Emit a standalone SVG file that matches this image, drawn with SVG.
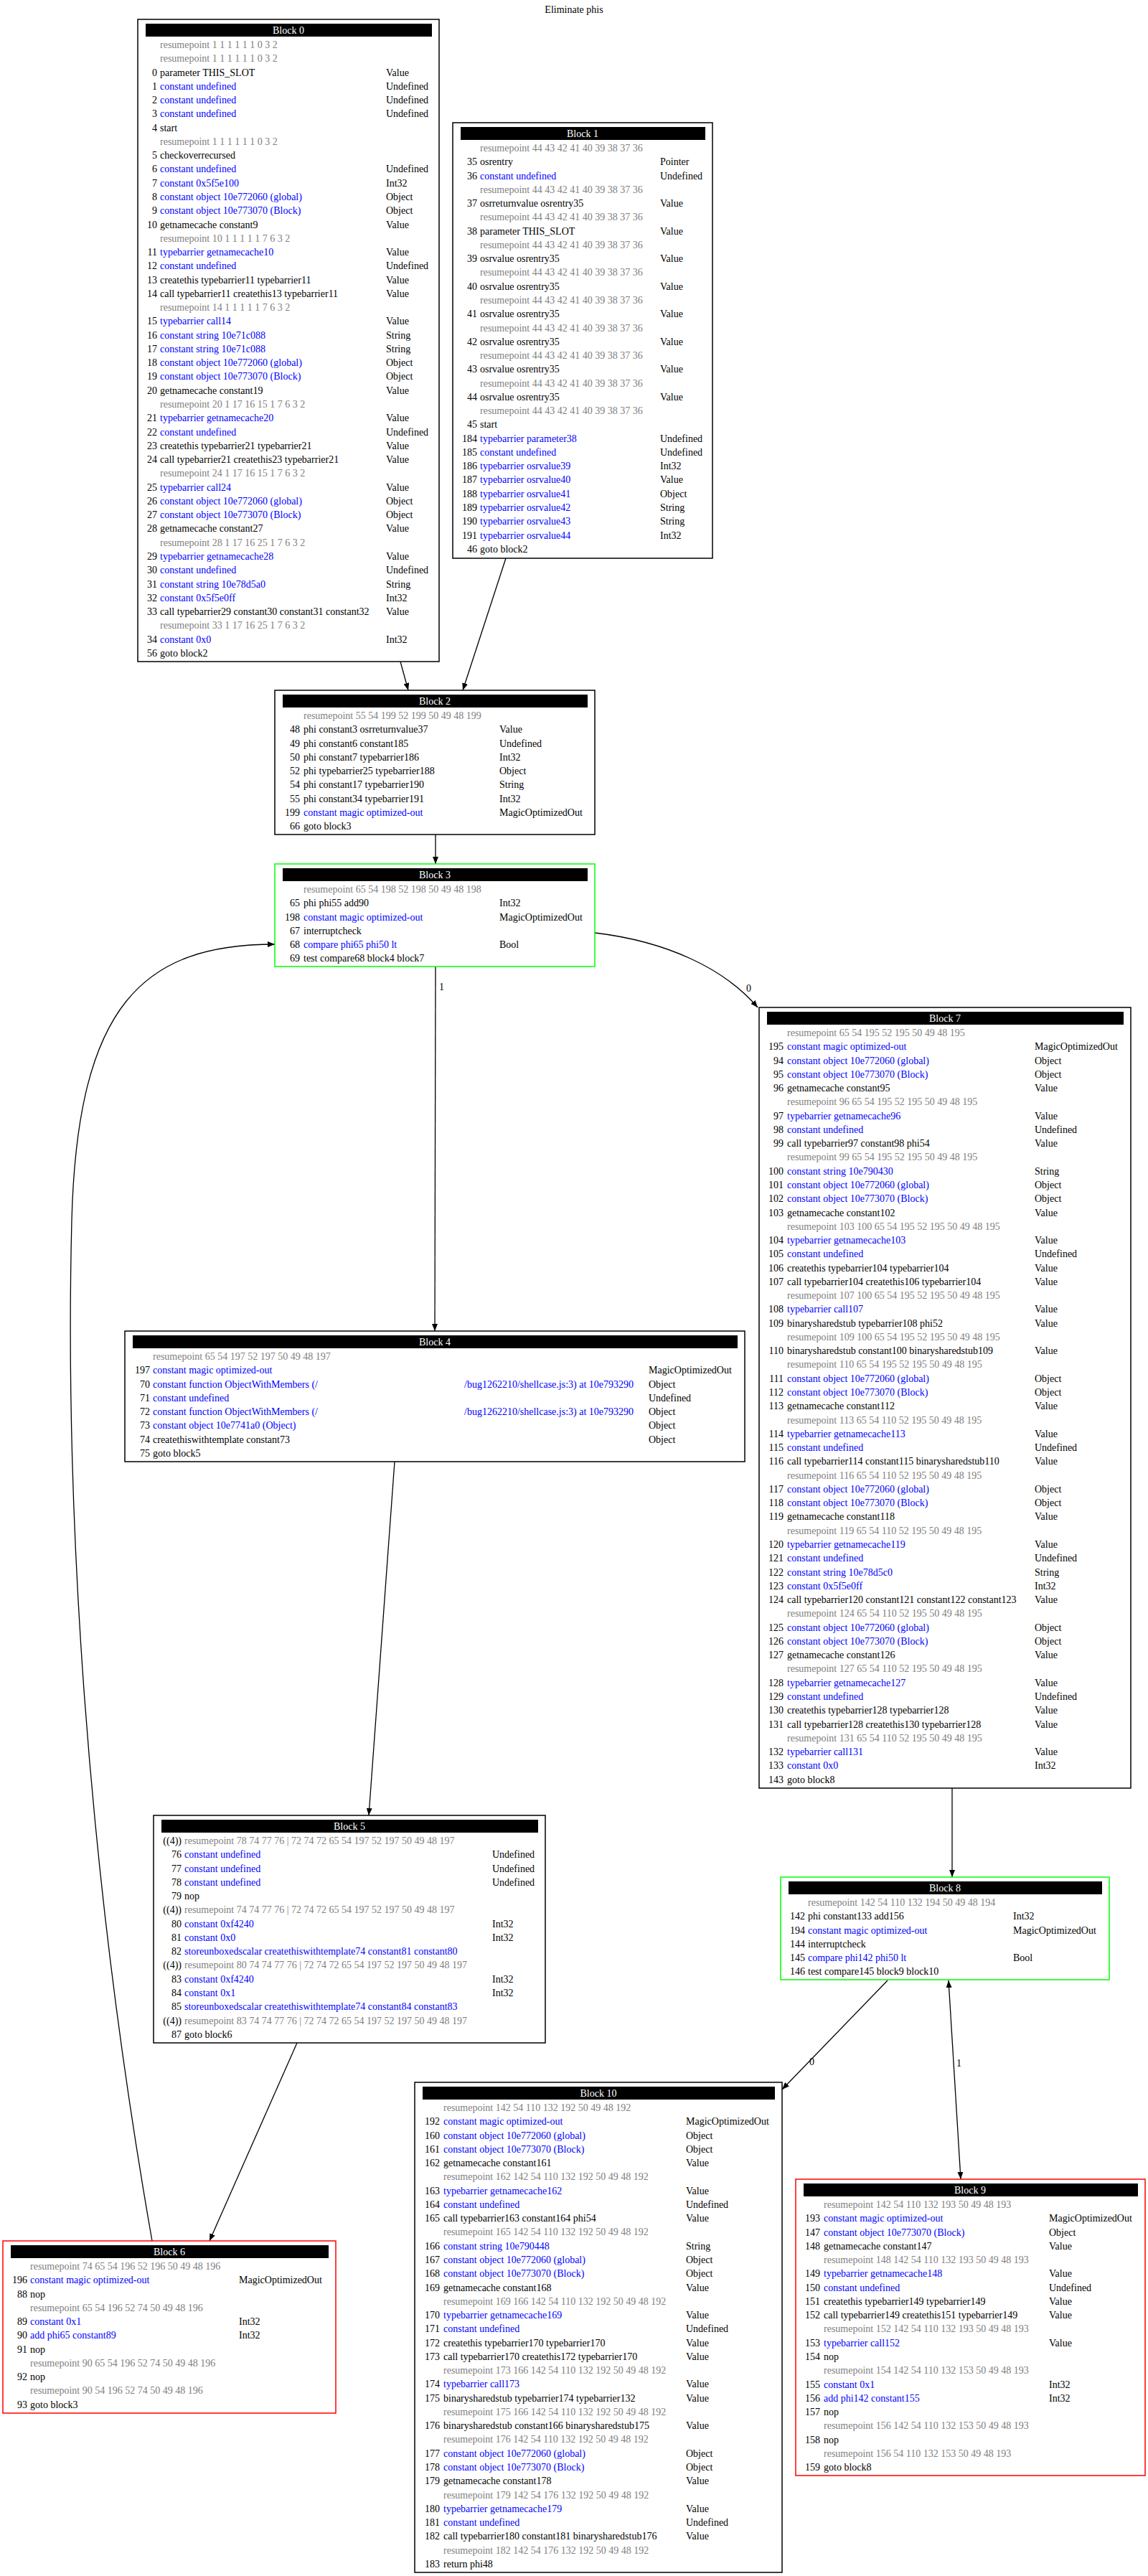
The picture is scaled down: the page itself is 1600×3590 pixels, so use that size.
<svg xmlns="http://www.w3.org/2000/svg" width="1600" height="3590" viewBox="0 0 1600 3590">
<style>
text{font-family:"Liberation Serif","Times New Roman",serif;font-size:14px;fill:#000}
.n{text-anchor:end}
.g{fill:#808080}
.b{fill:#0000ff}
.hd{fill:#fff;text-anchor:middle}
.box{fill:#fff;stroke:#000;stroke-width:1.5}
.gr{stroke:#00ff00}
.rd{stroke:#ff0000}
.bar{fill:#000}
.edge{fill:none;stroke:#000;stroke-width:1.3}
</style>
<defs>
<marker id="ah" markerWidth="10" markerHeight="8" refX="10" refY="4" orient="auto" markerUnits="userSpaceOnUse"><path d="M0,0 L10,4 L0,8 z" fill="#000"/></marker>
<marker id="as" markerWidth="10" markerHeight="8" refX="0" refY="4" orient="auto" markerUnits="userSpaceOnUse"><path d="M10,0 L0,4 L10,8 z" fill="#000"/></marker>
</defs>
<rect width="1600" height="3590" fill="#fff"/>
<text x="800" y="18" text-anchor="middle">Eliminate phis</text>

<g id="edges">
<path class="edge" d="M558,922 L569,962" marker-end="url(#ah)"/>
<path class="edge" d="M705,778 L645,962" marker-end="url(#ah)"/>
<path class="edge" d="M607,1163 L607,1204" marker-end="url(#ah)"/>
<path class="edge" d="M607,1347 L606,1855" marker-end="url(#ah)"/>
<text x="612" y="1380">1</text>
<path class="edge" d="M829,1300 C930,1312 1010,1350 1056,1404" marker-end="url(#ah)"/>
<text x="1040" y="1382">0</text>
<path class="edge" d="M550,2037 L514,2530" marker-end="url(#ah)"/>
<path class="edge" d="M414,2847 L292,3123" marker-end="url(#ah)"/>
<path class="edge" d="M212,3123 C120,2600 90,2100 100,1700 C108,1400 200,1316 383,1316" marker-end="url(#ah)"/>
<path class="edge" d="M1327,2492 L1327,2616" marker-end="url(#ah)"/>
<path class="edge" d="M1322,2760 L1339,3037" marker-start="url(#as)" marker-end="url(#ah)"/>
<text x="1333" y="2880">1</text>
<path class="edge" d="M1237,2760 L1090,2912" marker-end="url(#ah)"/>
<text x="1128" y="2878">0</text>
</g>

<g id="block0">
<rect class="box" x="192" y="27" width="420" height="895"/>
<rect class="bar" x="203" y="33" width="399" height="18"/>
<text class="hd" x="402" y="47">Block 0</text>
<text class="n"><tspan x="219" y="105.54">0</tspan><tspan x="219" dy="19.27">1</tspan><tspan x="219" dy="19.27">2</tspan><tspan x="219" dy="19.27">3</tspan><tspan x="219" dy="19.27">4</tspan><tspan x="219" dy="38.54">5</tspan><tspan x="219" dy="19.27">6</tspan><tspan x="219" dy="19.27">7</tspan><tspan x="219" dy="19.27">8</tspan><tspan x="219" dy="19.27">9</tspan><tspan x="219" dy="19.27">10</tspan><tspan x="219" dy="38.54">11</tspan><tspan x="219" dy="19.27">12</tspan><tspan x="219" dy="19.27">13</tspan><tspan x="219" dy="19.27">14</tspan><tspan x="219" dy="38.54">15</tspan><tspan x="219" dy="19.27">16</tspan><tspan x="219" dy="19.27">17</tspan><tspan x="219" dy="19.27">18</tspan><tspan x="219" dy="19.27">19</tspan><tspan x="219" dy="19.27">20</tspan><tspan x="219" dy="38.54">21</tspan><tspan x="219" dy="19.27">22</tspan><tspan x="219" dy="19.27">23</tspan><tspan x="219" dy="19.27">24</tspan><tspan x="219" dy="38.54">25</tspan><tspan x="219" dy="19.27">26</tspan><tspan x="219" dy="19.27">27</tspan><tspan x="219" dy="19.27">28</tspan><tspan x="219" dy="38.54">29</tspan><tspan x="219" dy="19.27">30</tspan><tspan x="219" dy="19.27">31</tspan><tspan x="219" dy="19.27">32</tspan><tspan x="219" dy="19.27">33</tspan><tspan x="219" dy="38.54">34</tspan><tspan x="219" dy="19.27">56</tspan></text>
<text><tspan x="223" y="67" class="g">resumepoint 1 1 1 1 1 1 0 3 2</tspan><tspan x="223" dy="19.27" class="g">resumepoint 1 1 1 1 1 1 0 3 2</tspan><tspan x="223" dy="19.27">parameter THIS_SLOT</tspan><tspan x="223" dy="19.27" class="b">constant undefined</tspan><tspan x="223" dy="19.27" class="b">constant undefined</tspan><tspan x="223" dy="19.27" class="b">constant undefined</tspan><tspan x="223" dy="19.27">start</tspan><tspan x="223" dy="19.27" class="g">resumepoint 1 1 1 1 1 1 0 3 2</tspan><tspan x="223" dy="19.27">checkoverrecursed</tspan><tspan x="223" dy="19.27" class="b">constant undefined</tspan><tspan x="223" dy="19.27" class="b">constant 0x5f5e100</tspan><tspan x="223" dy="19.27" class="b">constant object 10e772060 (global)</tspan><tspan x="223" dy="19.27" class="b">constant object 10e773070 (Block)</tspan><tspan x="223" dy="19.27">getnamecache constant9</tspan><tspan x="223" dy="19.27" class="g">resumepoint 10 1 1 1 1 1 7 6 3 2</tspan><tspan x="223" dy="19.27" class="b">typebarrier getnamecache10</tspan><tspan x="223" dy="19.27" class="b">constant undefined</tspan><tspan x="223" dy="19.27">createthis typebarrier11 typebarrier11</tspan><tspan x="223" dy="19.27">call typebarrier11 createthis13 typebarrier11</tspan><tspan x="223" dy="19.27" class="g">resumepoint 14 1 1 1 1 1 7 6 3 2</tspan><tspan x="223" dy="19.27" class="b">typebarrier call14</tspan><tspan x="223" dy="19.27" class="b">constant string 10e71c088</tspan><tspan x="223" dy="19.27" class="b">constant string 10e71c088</tspan><tspan x="223" dy="19.27" class="b">constant object 10e772060 (global)</tspan><tspan x="223" dy="19.27" class="b">constant object 10e773070 (Block)</tspan><tspan x="223" dy="19.27">getnamecache constant19</tspan><tspan x="223" dy="19.27" class="g">resumepoint 20 1 17 16 15 1 7 6 3 2</tspan><tspan x="223" dy="19.27" class="b">typebarrier getnamecache20</tspan><tspan x="223" dy="19.27" class="b">constant undefined</tspan><tspan x="223" dy="19.27">createthis typebarrier21 typebarrier21</tspan><tspan x="223" dy="19.27">call typebarrier21 createthis23 typebarrier21</tspan><tspan x="223" dy="19.27" class="g">resumepoint 24 1 17 16 15 1 7 6 3 2</tspan><tspan x="223" dy="19.27" class="b">typebarrier call24</tspan><tspan x="223" dy="19.27" class="b">constant object 10e772060 (global)</tspan><tspan x="223" dy="19.27" class="b">constant object 10e773070 (Block)</tspan><tspan x="223" dy="19.27">getnamecache constant27</tspan><tspan x="223" dy="19.27" class="g">resumepoint 28 1 17 16 25 1 7 6 3 2</tspan><tspan x="223" dy="19.27" class="b">typebarrier getnamecache28</tspan><tspan x="223" dy="19.27" class="b">constant undefined</tspan><tspan x="223" dy="19.27" class="b">constant string 10e78d5a0</tspan><tspan x="223" dy="19.27" class="b">constant 0x5f5e0ff</tspan><tspan x="223" dy="19.27">call typebarrier29 constant30 constant31 constant32</tspan><tspan x="223" dy="19.27" class="g">resumepoint 33 1 17 16 25 1 7 6 3 2</tspan><tspan x="223" dy="19.27" class="b">constant 0x0</tspan><tspan x="223" dy="19.27">goto block2</tspan></text>
<text><tspan x="538" y="105.54">Value</tspan><tspan x="538" dy="19.27">Undefined</tspan><tspan x="538" dy="19.27">Undefined</tspan><tspan x="538" dy="19.27">Undefined</tspan><tspan x="538" dy="77.08">Undefined</tspan><tspan x="538" dy="19.27">Int32</tspan><tspan x="538" dy="19.27">Object</tspan><tspan x="538" dy="19.27">Object</tspan><tspan x="538" dy="19.27">Value</tspan><tspan x="538" dy="38.54">Value</tspan><tspan x="538" dy="19.27">Undefined</tspan><tspan x="538" dy="19.27">Value</tspan><tspan x="538" dy="19.27">Value</tspan><tspan x="538" dy="38.54">Value</tspan><tspan x="538" dy="19.27">String</tspan><tspan x="538" dy="19.27">String</tspan><tspan x="538" dy="19.27">Object</tspan><tspan x="538" dy="19.27">Object</tspan><tspan x="538" dy="19.27">Value</tspan><tspan x="538" dy="38.54">Value</tspan><tspan x="538" dy="19.27">Undefined</tspan><tspan x="538" dy="19.27">Value</tspan><tspan x="538" dy="19.27">Value</tspan><tspan x="538" dy="38.54">Value</tspan><tspan x="538" dy="19.27">Object</tspan><tspan x="538" dy="19.27">Object</tspan><tspan x="538" dy="19.27">Value</tspan><tspan x="538" dy="38.54">Value</tspan><tspan x="538" dy="19.27">Undefined</tspan><tspan x="538" dy="19.27">String</tspan><tspan x="538" dy="19.27">Int32</tspan><tspan x="538" dy="19.27">Value</tspan><tspan x="538" dy="38.54">Int32</tspan></text>
</g>

<g id="block1">
<rect class="box" x="631" y="171" width="362" height="607"/>
<rect class="bar" x="642" y="177" width="341" height="18"/>
<text class="hd" x="812" y="191">Block 1</text>
<text class="n"><tspan x="665" y="230.27">35</tspan><tspan x="665" dy="19.27">36</tspan><tspan x="665" dy="38.54">37</tspan><tspan x="665" dy="38.54">38</tspan><tspan x="665" dy="38.54">39</tspan><tspan x="665" dy="38.54">40</tspan><tspan x="665" dy="38.54">41</tspan><tspan x="665" dy="38.54">42</tspan><tspan x="665" dy="38.54">43</tspan><tspan x="665" dy="38.54">44</tspan><tspan x="665" dy="38.54">45</tspan><tspan x="665" dy="19.27">184</tspan><tspan x="665" dy="19.27">185</tspan><tspan x="665" dy="19.27">186</tspan><tspan x="665" dy="19.27">187</tspan><tspan x="665" dy="19.27">188</tspan><tspan x="665" dy="19.27">189</tspan><tspan x="665" dy="19.27">190</tspan><tspan x="665" dy="19.27">191</tspan><tspan x="665" dy="19.27">46</tspan></text>
<text><tspan x="669" y="211" class="g">resumepoint 44 43 42 41 40 39 38 37 36</tspan><tspan x="669" dy="19.27">osrentry</tspan><tspan x="669" dy="19.27" class="b">constant undefined</tspan><tspan x="669" dy="19.27" class="g">resumepoint 44 43 42 41 40 39 38 37 36</tspan><tspan x="669" dy="19.27">osrreturnvalue osrentry35</tspan><tspan x="669" dy="19.27" class="g">resumepoint 44 43 42 41 40 39 38 37 36</tspan><tspan x="669" dy="19.27">parameter THIS_SLOT</tspan><tspan x="669" dy="19.27" class="g">resumepoint 44 43 42 41 40 39 38 37 36</tspan><tspan x="669" dy="19.27">osrvalue osrentry35</tspan><tspan x="669" dy="19.27" class="g">resumepoint 44 43 42 41 40 39 38 37 36</tspan><tspan x="669" dy="19.27">osrvalue osrentry35</tspan><tspan x="669" dy="19.27" class="g">resumepoint 44 43 42 41 40 39 38 37 36</tspan><tspan x="669" dy="19.27">osrvalue osrentry35</tspan><tspan x="669" dy="19.27" class="g">resumepoint 44 43 42 41 40 39 38 37 36</tspan><tspan x="669" dy="19.27">osrvalue osrentry35</tspan><tspan x="669" dy="19.27" class="g">resumepoint 44 43 42 41 40 39 38 37 36</tspan><tspan x="669" dy="19.27">osrvalue osrentry35</tspan><tspan x="669" dy="19.27" class="g">resumepoint 44 43 42 41 40 39 38 37 36</tspan><tspan x="669" dy="19.27">osrvalue osrentry35</tspan><tspan x="669" dy="19.27" class="g">resumepoint 44 43 42 41 40 39 38 37 36</tspan><tspan x="669" dy="19.27">start</tspan><tspan x="669" dy="19.27" class="b">typebarrier parameter38</tspan><tspan x="669" dy="19.27" class="b">constant undefined</tspan><tspan x="669" dy="19.27" class="b">typebarrier osrvalue39</tspan><tspan x="669" dy="19.27" class="b">typebarrier osrvalue40</tspan><tspan x="669" dy="19.27" class="b">typebarrier osrvalue41</tspan><tspan x="669" dy="19.27" class="b">typebarrier osrvalue42</tspan><tspan x="669" dy="19.27" class="b">typebarrier osrvalue43</tspan><tspan x="669" dy="19.27" class="b">typebarrier osrvalue44</tspan><tspan x="669" dy="19.27">goto block2</tspan></text>
<text><tspan x="920" y="230.27">Pointer</tspan><tspan x="920" dy="19.27">Undefined</tspan><tspan x="920" dy="38.54">Value</tspan><tspan x="920" dy="38.54">Value</tspan><tspan x="920" dy="38.54">Value</tspan><tspan x="920" dy="38.54">Value</tspan><tspan x="920" dy="38.54">Value</tspan><tspan x="920" dy="38.54">Value</tspan><tspan x="920" dy="38.54">Value</tspan><tspan x="920" dy="38.54">Value</tspan><tspan x="920" dy="57.81">Undefined</tspan><tspan x="920" dy="19.27">Undefined</tspan><tspan x="920" dy="19.27">Int32</tspan><tspan x="920" dy="19.27">Value</tspan><tspan x="920" dy="19.27">Object</tspan><tspan x="920" dy="19.27">String</tspan><tspan x="920" dy="19.27">String</tspan><tspan x="920" dy="19.27">Int32</tspan></text>
</g>

<g id="block2">
<rect class="box" x="383" y="962" width="446" height="201"/>
<rect class="bar" x="394" y="968" width="425" height="18"/>
<text class="hd" x="606" y="982">Block 2</text>
<text class="n"><tspan x="418" y="1021.27">48</tspan><tspan x="418" dy="19.27">49</tspan><tspan x="418" dy="19.27">50</tspan><tspan x="418" dy="19.27">52</tspan><tspan x="418" dy="19.27">54</tspan><tspan x="418" dy="19.27">55</tspan><tspan x="418" dy="19.27">199</tspan><tspan x="418" dy="19.27">66</tspan></text>
<text><tspan x="423" y="1002" class="g">resumepoint 55 54 199 52 199 50 49 48 199</tspan><tspan x="423" dy="19.27">phi constant3 osrreturnvalue37</tspan><tspan x="423" dy="19.27">phi constant6 constant185</tspan><tspan x="423" dy="19.27">phi constant7 typebarrier186</tspan><tspan x="423" dy="19.27">phi typebarrier25 typebarrier188</tspan><tspan x="423" dy="19.27">phi constant17 typebarrier190</tspan><tspan x="423" dy="19.27">phi constant34 typebarrier191</tspan><tspan x="423" dy="19.27" class="b">constant magic optimized-out</tspan><tspan x="423" dy="19.27">goto block3</tspan></text>
<text><tspan x="696" y="1021.27">Value</tspan><tspan x="696" dy="19.27">Undefined</tspan><tspan x="696" dy="19.27">Int32</tspan><tspan x="696" dy="19.27">Object</tspan><tspan x="696" dy="19.27">String</tspan><tspan x="696" dy="19.27">Int32</tspan><tspan x="696" dy="19.27">MagicOptimizedOut</tspan></text>
</g>

<g id="block3">
<rect class="box gr" x="383" y="1204" width="446" height="143"/>
<rect class="bar" x="394" y="1210" width="425" height="18"/>
<text class="hd" x="606" y="1224">Block 3</text>
<text class="n"><tspan x="418" y="1263.27">65</tspan><tspan x="418" dy="19.27">198</tspan><tspan x="418" dy="19.27">67</tspan><tspan x="418" dy="19.27">68</tspan><tspan x="418" dy="19.27">69</tspan></text>
<text><tspan x="423" y="1244" class="g">resumepoint 65 54 198 52 198 50 49 48 198</tspan><tspan x="423" dy="19.27">phi phi55 add90</tspan><tspan x="423" dy="19.27" class="b">constant magic optimized-out</tspan><tspan x="423" dy="19.27">interruptcheck</tspan><tspan x="423" dy="19.27" class="b">compare phi65 phi50 lt</tspan><tspan x="423" dy="19.27">test compare68 block4 block7</tspan></text>
<text><tspan x="696" y="1263.27">Int32</tspan><tspan x="696" dy="19.27">MagicOptimizedOut</tspan><tspan x="696" dy="38.54">Bool</tspan></text>
</g>

<g id="block4">
<rect class="box" x="174" y="1855" width="864" height="182"/>
<rect class="bar" x="185" y="1861" width="843" height="18"/>
<text class="hd" x="606" y="1875">Block 4</text>
<text class="n"><tspan x="209" y="1914.27">197</tspan><tspan x="209" dy="19.27">70</tspan><tspan x="209" dy="19.27">71</tspan><tspan x="209" dy="19.27">72</tspan><tspan x="209" dy="19.27">73</tspan><tspan x="209" dy="19.27">74</tspan><tspan x="209" dy="19.27">75</tspan></text>
<text><tspan x="213" y="1895" class="g">resumepoint 65 54 197 52 197 50 49 48 197</tspan><tspan x="213" dy="19.27" class="b">constant magic optimized-out</tspan><tspan x="213" dy="19.27" class="b">constant function ObjectWithMembers (/</tspan><tspan x="213" dy="19.27" class="b">constant undefined</tspan><tspan x="213" dy="19.27" class="b">constant function ObjectWithMembers (/</tspan><tspan x="213" dy="19.27" class="b">constant object 10e7741a0 (Object)</tspan><tspan x="213" dy="19.27">createthiswithtemplate constant73</tspan><tspan x="213" dy="19.27">goto block5</tspan></text>
<text class="b"><tspan x="647" y="1933.54">/bug1262210/shellcase.js:3) at 10e793290</tspan><tspan x="647" dy="38.54">/bug1262210/shellcase.js:3) at 10e793290</tspan></text>
<text><tspan x="904" y="1914.27">MagicOptimizedOut</tspan><tspan x="904" dy="19.27">Object</tspan><tspan x="904" dy="19.27">Undefined</tspan><tspan x="904" dy="19.27">Object</tspan><tspan x="904" dy="19.27">Object</tspan><tspan x="904" dy="19.27">Object</tspan></text>
</g>

<g id="block5">
<rect class="box" x="214" y="2530" width="546" height="317"/>
<rect class="bar" x="225" y="2536" width="525" height="18"/>
<text class="hd" x="487" y="2550">Block 5</text>
<text class="n"><tspan x="253" y="2570">((4))</tspan><tspan x="253" dy="19.27">76</tspan><tspan x="253" dy="19.27">77</tspan><tspan x="253" dy="19.27">78</tspan><tspan x="253" dy="19.27">79</tspan><tspan x="253" dy="19.27">((4))</tspan><tspan x="253" dy="19.27">80</tspan><tspan x="253" dy="19.27">81</tspan><tspan x="253" dy="19.27">82</tspan><tspan x="253" dy="19.27">((4))</tspan><tspan x="253" dy="19.27">83</tspan><tspan x="253" dy="19.27">84</tspan><tspan x="253" dy="19.27">85</tspan><tspan x="253" dy="19.27">((4))</tspan><tspan x="253" dy="19.27">87</tspan></text>
<text><tspan x="257" y="2570" class="g">resumepoint 78 74 77 76 | 72 74 72 65 54 197 52 197 50 49 48 197</tspan><tspan x="257" dy="19.27" class="b">constant undefined</tspan><tspan x="257" dy="19.27" class="b">constant undefined</tspan><tspan x="257" dy="19.27" class="b">constant undefined</tspan><tspan x="257" dy="19.27">nop</tspan><tspan x="257" dy="19.27" class="g">resumepoint 74 74 77 76 | 72 74 72 65 54 197 52 197 50 49 48 197</tspan><tspan x="257" dy="19.27" class="b">constant 0xf4240</tspan><tspan x="257" dy="19.27" class="b">constant 0x0</tspan><tspan x="257" dy="19.27" class="b">storeunboxedscalar createthiswithtemplate74 constant81 constant80</tspan><tspan x="257" dy="19.27" class="g">resumepoint 80 74 74 77 76 | 72 74 72 65 54 197 52 197 50 49 48 197</tspan><tspan x="257" dy="19.27" class="b">constant 0xf4240</tspan><tspan x="257" dy="19.27" class="b">constant 0x1</tspan><tspan x="257" dy="19.27" class="b">storeunboxedscalar createthiswithtemplate74 constant84 constant83</tspan><tspan x="257" dy="19.27" class="g">resumepoint 83 74 74 77 76 | 72 74 72 65 54 197 52 197 50 49 48 197</tspan><tspan x="257" dy="19.27">goto block6</tspan></text>
<text><tspan x="686" y="2589.27">Undefined</tspan><tspan x="686" dy="19.27">Undefined</tspan><tspan x="686" dy="19.27">Undefined</tspan><tspan x="686" dy="57.81">Int32</tspan><tspan x="686" dy="19.27">Int32</tspan><tspan x="686" dy="57.81">Int32</tspan><tspan x="686" dy="19.27">Int32</tspan></text>
</g>

<g id="block6">
<rect class="box rd" x="4" y="3123" width="464" height="240"/>
<rect class="bar" x="15" y="3129" width="443" height="18"/>
<text class="hd" x="236" y="3143">Block 6</text>
<text class="n"><tspan x="38" y="3182.27">196</tspan><tspan x="38" dy="19.27">88</tspan><tspan x="38" dy="38.54">89</tspan><tspan x="38" dy="19.27">90</tspan><tspan x="38" dy="19.27">91</tspan><tspan x="38" dy="38.54">92</tspan><tspan x="38" dy="38.54">93</tspan></text>
<text><tspan x="42" y="3163" class="g">resumepoint 74 65 54 196 52 196 50 49 48 196</tspan><tspan x="42" dy="19.27" class="b">constant magic optimized-out</tspan><tspan x="42" dy="19.27">nop</tspan><tspan x="42" dy="19.27" class="g">resumepoint 65 54 196 52 74 50 49 48 196</tspan><tspan x="42" dy="19.27" class="b">constant 0x1</tspan><tspan x="42" dy="19.27" class="b">add phi65 constant89</tspan><tspan x="42" dy="19.27">nop</tspan><tspan x="42" dy="19.27" class="g">resumepoint 90 65 54 196 52 74 50 49 48 196</tspan><tspan x="42" dy="19.27">nop</tspan><tspan x="42" dy="19.27" class="g">resumepoint 90 54 196 52 74 50 49 48 196</tspan><tspan x="42" dy="19.27">goto block3</tspan></text>
<text><tspan x="333" y="3182.27">MagicOptimizedOut</tspan><tspan x="333" dy="57.81">Int32</tspan><tspan x="333" dy="19.27">Int32</tspan></text>
</g>

<g id="block7">
<rect class="box" x="1058" y="1404" width="518" height="1088"/>
<rect class="bar" x="1069" y="1410" width="497" height="18"/>
<text class="hd" x="1317" y="1424">Block 7</text>
<text class="n"><tspan x="1092" y="1463.27">195</tspan><tspan x="1092" dy="19.27">94</tspan><tspan x="1092" dy="19.27">95</tspan><tspan x="1092" dy="19.27">96</tspan><tspan x="1092" dy="38.54">97</tspan><tspan x="1092" dy="19.27">98</tspan><tspan x="1092" dy="19.27">99</tspan><tspan x="1092" dy="38.54">100</tspan><tspan x="1092" dy="19.27">101</tspan><tspan x="1092" dy="19.27">102</tspan><tspan x="1092" dy="19.27">103</tspan><tspan x="1092" dy="38.54">104</tspan><tspan x="1092" dy="19.27">105</tspan><tspan x="1092" dy="19.27">106</tspan><tspan x="1092" dy="19.27">107</tspan><tspan x="1092" dy="38.54">108</tspan><tspan x="1092" dy="19.27">109</tspan><tspan x="1092" dy="38.54">110</tspan><tspan x="1092" dy="38.54">111</tspan><tspan x="1092" dy="19.27">112</tspan><tspan x="1092" dy="19.27">113</tspan><tspan x="1092" dy="38.54">114</tspan><tspan x="1092" dy="19.27">115</tspan><tspan x="1092" dy="19.27">116</tspan><tspan x="1092" dy="38.54">117</tspan><tspan x="1092" dy="19.27">118</tspan><tspan x="1092" dy="19.27">119</tspan><tspan x="1092" dy="38.54">120</tspan><tspan x="1092" dy="19.27">121</tspan><tspan x="1092" dy="19.27">122</tspan><tspan x="1092" dy="19.27">123</tspan><tspan x="1092" dy="19.27">124</tspan><tspan x="1092" dy="38.54">125</tspan><tspan x="1092" dy="19.27">126</tspan><tspan x="1092" dy="19.27">127</tspan><tspan x="1092" dy="38.54">128</tspan><tspan x="1092" dy="19.27">129</tspan><tspan x="1092" dy="19.27">130</tspan><tspan x="1092" dy="19.27">131</tspan><tspan x="1092" dy="38.54">132</tspan><tspan x="1092" dy="19.27">133</tspan><tspan x="1092" dy="19.27">143</tspan></text>
<text><tspan x="1097" y="1444" class="g">resumepoint 65 54 195 52 195 50 49 48 195</tspan><tspan x="1097" dy="19.27" class="b">constant magic optimized-out</tspan><tspan x="1097" dy="19.27" class="b">constant object 10e772060 (global)</tspan><tspan x="1097" dy="19.27" class="b">constant object 10e773070 (Block)</tspan><tspan x="1097" dy="19.27">getnamecache constant95</tspan><tspan x="1097" dy="19.27" class="g">resumepoint 96 65 54 195 52 195 50 49 48 195</tspan><tspan x="1097" dy="19.27" class="b">typebarrier getnamecache96</tspan><tspan x="1097" dy="19.27" class="b">constant undefined</tspan><tspan x="1097" dy="19.27">call typebarrier97 constant98 phi54</tspan><tspan x="1097" dy="19.27" class="g">resumepoint 99 65 54 195 52 195 50 49 48 195</tspan><tspan x="1097" dy="19.27" class="b">constant string 10e790430</tspan><tspan x="1097" dy="19.27" class="b">constant object 10e772060 (global)</tspan><tspan x="1097" dy="19.27" class="b">constant object 10e773070 (Block)</tspan><tspan x="1097" dy="19.27">getnamecache constant102</tspan><tspan x="1097" dy="19.27" class="g">resumepoint 103 100 65 54 195 52 195 50 49 48 195</tspan><tspan x="1097" dy="19.27" class="b">typebarrier getnamecache103</tspan><tspan x="1097" dy="19.27" class="b">constant undefined</tspan><tspan x="1097" dy="19.27">createthis typebarrier104 typebarrier104</tspan><tspan x="1097" dy="19.27">call typebarrier104 createthis106 typebarrier104</tspan><tspan x="1097" dy="19.27" class="g">resumepoint 107 100 65 54 195 52 195 50 49 48 195</tspan><tspan x="1097" dy="19.27" class="b">typebarrier call107</tspan><tspan x="1097" dy="19.27">binarysharedstub typebarrier108 phi52</tspan><tspan x="1097" dy="19.27" class="g">resumepoint 109 100 65 54 195 52 195 50 49 48 195</tspan><tspan x="1097" dy="19.27">binarysharedstub constant100 binarysharedstub109</tspan><tspan x="1097" dy="19.27" class="g">resumepoint 110 65 54 195 52 195 50 49 48 195</tspan><tspan x="1097" dy="19.27" class="b">constant object 10e772060 (global)</tspan><tspan x="1097" dy="19.27" class="b">constant object 10e773070 (Block)</tspan><tspan x="1097" dy="19.27">getnamecache constant112</tspan><tspan x="1097" dy="19.27" class="g">resumepoint 113 65 54 110 52 195 50 49 48 195</tspan><tspan x="1097" dy="19.27" class="b">typebarrier getnamecache113</tspan><tspan x="1097" dy="19.27" class="b">constant undefined</tspan><tspan x="1097" dy="19.27">call typebarrier114 constant115 binarysharedstub110</tspan><tspan x="1097" dy="19.27" class="g">resumepoint 116 65 54 110 52 195 50 49 48 195</tspan><tspan x="1097" dy="19.27" class="b">constant object 10e772060 (global)</tspan><tspan x="1097" dy="19.27" class="b">constant object 10e773070 (Block)</tspan><tspan x="1097" dy="19.27">getnamecache constant118</tspan><tspan x="1097" dy="19.27" class="g">resumepoint 119 65 54 110 52 195 50 49 48 195</tspan><tspan x="1097" dy="19.27" class="b">typebarrier getnamecache119</tspan><tspan x="1097" dy="19.27" class="b">constant undefined</tspan><tspan x="1097" dy="19.27" class="b">constant string 10e78d5c0</tspan><tspan x="1097" dy="19.27" class="b">constant 0x5f5e0ff</tspan><tspan x="1097" dy="19.27">call typebarrier120 constant121 constant122 constant123</tspan><tspan x="1097" dy="19.27" class="g">resumepoint 124 65 54 110 52 195 50 49 48 195</tspan><tspan x="1097" dy="19.27" class="b">constant object 10e772060 (global)</tspan><tspan x="1097" dy="19.27" class="b">constant object 10e773070 (Block)</tspan><tspan x="1097" dy="19.27">getnamecache constant126</tspan><tspan x="1097" dy="19.27" class="g">resumepoint 127 65 54 110 52 195 50 49 48 195</tspan><tspan x="1097" dy="19.27" class="b">typebarrier getnamecache127</tspan><tspan x="1097" dy="19.27" class="b">constant undefined</tspan><tspan x="1097" dy="19.27">createthis typebarrier128 typebarrier128</tspan><tspan x="1097" dy="19.27">call typebarrier128 createthis130 typebarrier128</tspan><tspan x="1097" dy="19.27" class="g">resumepoint 131 65 54 110 52 195 50 49 48 195</tspan><tspan x="1097" dy="19.27" class="b">typebarrier call131</tspan><tspan x="1097" dy="19.27" class="b">constant 0x0</tspan><tspan x="1097" dy="19.27">goto block8</tspan></text>
<text><tspan x="1442" y="1463.27">MagicOptimizedOut</tspan><tspan x="1442" dy="19.27">Object</tspan><tspan x="1442" dy="19.27">Object</tspan><tspan x="1442" dy="19.27">Value</tspan><tspan x="1442" dy="38.54">Value</tspan><tspan x="1442" dy="19.27">Undefined</tspan><tspan x="1442" dy="19.27">Value</tspan><tspan x="1442" dy="38.54">String</tspan><tspan x="1442" dy="19.27">Object</tspan><tspan x="1442" dy="19.27">Object</tspan><tspan x="1442" dy="19.27">Value</tspan><tspan x="1442" dy="38.54">Value</tspan><tspan x="1442" dy="19.27">Undefined</tspan><tspan x="1442" dy="19.27">Value</tspan><tspan x="1442" dy="19.27">Value</tspan><tspan x="1442" dy="38.54">Value</tspan><tspan x="1442" dy="19.27">Value</tspan><tspan x="1442" dy="38.54">Value</tspan><tspan x="1442" dy="38.54">Object</tspan><tspan x="1442" dy="19.27">Object</tspan><tspan x="1442" dy="19.27">Value</tspan><tspan x="1442" dy="38.54">Value</tspan><tspan x="1442" dy="19.27">Undefined</tspan><tspan x="1442" dy="19.27">Value</tspan><tspan x="1442" dy="38.54">Object</tspan><tspan x="1442" dy="19.27">Object</tspan><tspan x="1442" dy="19.27">Value</tspan><tspan x="1442" dy="38.54">Value</tspan><tspan x="1442" dy="19.27">Undefined</tspan><tspan x="1442" dy="19.27">String</tspan><tspan x="1442" dy="19.27">Int32</tspan><tspan x="1442" dy="19.27">Value</tspan><tspan x="1442" dy="38.54">Object</tspan><tspan x="1442" dy="19.27">Object</tspan><tspan x="1442" dy="19.27">Value</tspan><tspan x="1442" dy="38.54">Value</tspan><tspan x="1442" dy="19.27">Undefined</tspan><tspan x="1442" dy="19.27">Value</tspan><tspan x="1442" dy="19.27">Value</tspan><tspan x="1442" dy="38.54">Value</tspan><tspan x="1442" dy="19.27">Int32</tspan></text>
</g>

<g id="block8">
<rect class="box gr" x="1088" y="2616" width="458" height="143"/>
<rect class="bar" x="1099" y="2622" width="437" height="18"/>
<text class="hd" x="1317" y="2636">Block 8</text>
<text class="n"><tspan x="1122" y="2675.27">142</tspan><tspan x="1122" dy="19.27">194</tspan><tspan x="1122" dy="19.27">144</tspan><tspan x="1122" dy="19.27">145</tspan><tspan x="1122" dy="19.27">146</tspan></text>
<text><tspan x="1126" y="2656" class="g">resumepoint 142 54 110 132 194 50 49 48 194</tspan><tspan x="1126" dy="19.27">phi constant133 add156</tspan><tspan x="1126" dy="19.27" class="b">constant magic optimized-out</tspan><tspan x="1126" dy="19.27">interruptcheck</tspan><tspan x="1126" dy="19.27" class="b">compare phi142 phi50 lt</tspan><tspan x="1126" dy="19.27">test compare145 block9 block10</tspan></text>
<text><tspan x="1412" y="2675.27">Int32</tspan><tspan x="1412" dy="19.27">MagicOptimizedOut</tspan><tspan x="1412" dy="38.54">Bool</tspan></text>
</g>

<g id="block9">
<rect class="box rd" x="1109" y="3037" width="487" height="413"/>
<rect class="bar" x="1120" y="3043" width="466" height="18"/>
<text class="hd" x="1352" y="3057">Block 9</text>
<text class="n"><tspan x="1143" y="3096.27">193</tspan><tspan x="1143" dy="19.27">147</tspan><tspan x="1143" dy="19.27">148</tspan><tspan x="1143" dy="38.54">149</tspan><tspan x="1143" dy="19.27">150</tspan><tspan x="1143" dy="19.27">151</tspan><tspan x="1143" dy="19.27">152</tspan><tspan x="1143" dy="38.54">153</tspan><tspan x="1143" dy="19.27">154</tspan><tspan x="1143" dy="38.54">155</tspan><tspan x="1143" dy="19.27">156</tspan><tspan x="1143" dy="19.27">157</tspan><tspan x="1143" dy="38.54">158</tspan><tspan x="1143" dy="38.54">159</tspan></text>
<text><tspan x="1148" y="3077" class="g">resumepoint 142 54 110 132 193 50 49 48 193</tspan><tspan x="1148" dy="19.27" class="b">constant magic optimized-out</tspan><tspan x="1148" dy="19.27" class="b">constant object 10e773070 (Block)</tspan><tspan x="1148" dy="19.27">getnamecache constant147</tspan><tspan x="1148" dy="19.27" class="g">resumepoint 148 142 54 110 132 193 50 49 48 193</tspan><tspan x="1148" dy="19.27" class="b">typebarrier getnamecache148</tspan><tspan x="1148" dy="19.27" class="b">constant undefined</tspan><tspan x="1148" dy="19.27">createthis typebarrier149 typebarrier149</tspan><tspan x="1148" dy="19.27">call typebarrier149 createthis151 typebarrier149</tspan><tspan x="1148" dy="19.27" class="g">resumepoint 152 142 54 110 132 193 50 49 48 193</tspan><tspan x="1148" dy="19.27" class="b">typebarrier call152</tspan><tspan x="1148" dy="19.27">nop</tspan><tspan x="1148" dy="19.27" class="g">resumepoint 154 142 54 110 132 153 50 49 48 193</tspan><tspan x="1148" dy="19.27" class="b">constant 0x1</tspan><tspan x="1148" dy="19.27" class="b">add phi142 constant155</tspan><tspan x="1148" dy="19.27">nop</tspan><tspan x="1148" dy="19.27" class="g">resumepoint 156 142 54 110 132 153 50 49 48 193</tspan><tspan x="1148" dy="19.27">nop</tspan><tspan x="1148" dy="19.27" class="g">resumepoint 156 54 110 132 153 50 49 48 193</tspan><tspan x="1148" dy="19.27">goto block8</tspan></text>
<text><tspan x="1462" y="3096.27">MagicOptimizedOut</tspan><tspan x="1462" dy="19.27">Object</tspan><tspan x="1462" dy="19.27">Value</tspan><tspan x="1462" dy="38.54">Value</tspan><tspan x="1462" dy="19.27">Undefined</tspan><tspan x="1462" dy="19.27">Value</tspan><tspan x="1462" dy="19.27">Value</tspan><tspan x="1462" dy="38.54">Value</tspan><tspan x="1462" dy="57.81">Int32</tspan><tspan x="1462" dy="19.27">Int32</tspan></text>
</g>

<g id="block10">
<rect class="box" x="578" y="2902" width="512" height="683"/>
<rect class="bar" x="589" y="2908" width="491" height="18"/>
<text class="hd" x="834" y="2922">Block 10</text>
<text class="n"><tspan x="613" y="2961.27">192</tspan><tspan x="613" dy="19.27">160</tspan><tspan x="613" dy="19.27">161</tspan><tspan x="613" dy="19.27">162</tspan><tspan x="613" dy="38.54">163</tspan><tspan x="613" dy="19.27">164</tspan><tspan x="613" dy="19.27">165</tspan><tspan x="613" dy="38.54">166</tspan><tspan x="613" dy="19.27">167</tspan><tspan x="613" dy="19.27">168</tspan><tspan x="613" dy="19.27">169</tspan><tspan x="613" dy="38.54">170</tspan><tspan x="613" dy="19.27">171</tspan><tspan x="613" dy="19.27">172</tspan><tspan x="613" dy="19.27">173</tspan><tspan x="613" dy="38.54">174</tspan><tspan x="613" dy="19.27">175</tspan><tspan x="613" dy="38.54">176</tspan><tspan x="613" dy="38.54">177</tspan><tspan x="613" dy="19.27">178</tspan><tspan x="613" dy="19.27">179</tspan><tspan x="613" dy="38.54">180</tspan><tspan x="613" dy="19.27">181</tspan><tspan x="613" dy="19.27">182</tspan><tspan x="613" dy="38.54">183</tspan></text>
<text><tspan x="618" y="2942" class="g">resumepoint 142 54 110 132 192 50 49 48 192</tspan><tspan x="618" dy="19.27" class="b">constant magic optimized-out</tspan><tspan x="618" dy="19.27" class="b">constant object 10e772060 (global)</tspan><tspan x="618" dy="19.27" class="b">constant object 10e773070 (Block)</tspan><tspan x="618" dy="19.27">getnamecache constant161</tspan><tspan x="618" dy="19.27" class="g">resumepoint 162 142 54 110 132 192 50 49 48 192</tspan><tspan x="618" dy="19.27" class="b">typebarrier getnamecache162</tspan><tspan x="618" dy="19.27" class="b">constant undefined</tspan><tspan x="618" dy="19.27">call typebarrier163 constant164 phi54</tspan><tspan x="618" dy="19.27" class="g">resumepoint 165 142 54 110 132 192 50 49 48 192</tspan><tspan x="618" dy="19.27" class="b">constant string 10e790448</tspan><tspan x="618" dy="19.27" class="b">constant object 10e772060 (global)</tspan><tspan x="618" dy="19.27" class="b">constant object 10e773070 (Block)</tspan><tspan x="618" dy="19.27">getnamecache constant168</tspan><tspan x="618" dy="19.27" class="g">resumepoint 169 166 142 54 110 132 192 50 49 48 192</tspan><tspan x="618" dy="19.27" class="b">typebarrier getnamecache169</tspan><tspan x="618" dy="19.27" class="b">constant undefined</tspan><tspan x="618" dy="19.27">createthis typebarrier170 typebarrier170</tspan><tspan x="618" dy="19.27">call typebarrier170 createthis172 typebarrier170</tspan><tspan x="618" dy="19.27" class="g">resumepoint 173 166 142 54 110 132 192 50 49 48 192</tspan><tspan x="618" dy="19.27" class="b">typebarrier call173</tspan><tspan x="618" dy="19.27">binarysharedstub typebarrier174 typebarrier132</tspan><tspan x="618" dy="19.27" class="g">resumepoint 175 166 142 54 110 132 192 50 49 48 192</tspan><tspan x="618" dy="19.27">binarysharedstub constant166 binarysharedstub175</tspan><tspan x="618" dy="19.27" class="g">resumepoint 176 142 54 110 132 192 50 49 48 192</tspan><tspan x="618" dy="19.27" class="b">constant object 10e772060 (global)</tspan><tspan x="618" dy="19.27" class="b">constant object 10e773070 (Block)</tspan><tspan x="618" dy="19.27">getnamecache constant178</tspan><tspan x="618" dy="19.27" class="g">resumepoint 179 142 54 176 132 192 50 49 48 192</tspan><tspan x="618" dy="19.27" class="b">typebarrier getnamecache179</tspan><tspan x="618" dy="19.27" class="b">constant undefined</tspan><tspan x="618" dy="19.27">call typebarrier180 constant181 binarysharedstub176</tspan><tspan x="618" dy="19.27" class="g">resumepoint 182 142 54 176 132 192 50 49 48 192</tspan><tspan x="618" dy="19.27">return phi48</tspan></text>
<text><tspan x="956" y="2961.27">MagicOptimizedOut</tspan><tspan x="956" dy="19.27">Object</tspan><tspan x="956" dy="19.27">Object</tspan><tspan x="956" dy="19.27">Value</tspan><tspan x="956" dy="38.54">Value</tspan><tspan x="956" dy="19.27">Undefined</tspan><tspan x="956" dy="19.27">Value</tspan><tspan x="956" dy="38.54">String</tspan><tspan x="956" dy="19.27">Object</tspan><tspan x="956" dy="19.27">Object</tspan><tspan x="956" dy="19.27">Value</tspan><tspan x="956" dy="38.54">Value</tspan><tspan x="956" dy="19.27">Undefined</tspan><tspan x="956" dy="19.27">Value</tspan><tspan x="956" dy="19.27">Value</tspan><tspan x="956" dy="38.54">Value</tspan><tspan x="956" dy="19.27">Value</tspan><tspan x="956" dy="38.54">Value</tspan><tspan x="956" dy="38.54">Object</tspan><tspan x="956" dy="19.27">Object</tspan><tspan x="956" dy="19.27">Value</tspan><tspan x="956" dy="38.54">Value</tspan><tspan x="956" dy="19.27">Undefined</tspan><tspan x="956" dy="19.27">Value</tspan></text>
</g>
</svg>
